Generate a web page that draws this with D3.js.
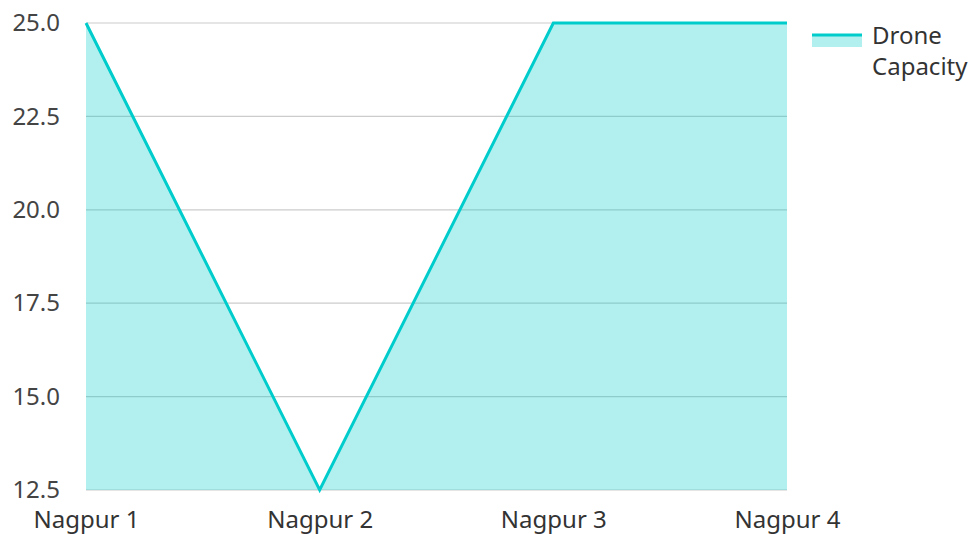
<!DOCTYPE html>
<html><head><meta charset="utf-8">
<script src="https://cdn.jsdelivr.net/npm/d3@7"></script>
<style>body{margin:0;background:#fff}svg{display:block}text{font-family:"Noto Sans",sans-serif;}</style>
</head><body><svg id="c" width="973" height="534"></svg>
<script>
const categories = ["Nagpur 1","Nagpur 2","Nagpur 3","Nagpur 4"];
const droneCapacity = [25, 12.5, 25, 25];
const yTicks = [12.5, 15.0, 17.5, 20.0, 22.5, 25.0];
const seriesName = ["Drone", "Capacity"];

(function(){
const svg = d3.select("#c");
const mLeft = 86, mRight = 787, mTop = 23, mBottom = 490;
const x = d3.scalePoint().domain(categories).range([mLeft, mRight]).padding(0);
const y = d3.scaleLinear().domain([12.5, 25]).range([mBottom, mTop]);
const lineColor = "#00cccc";

svg.append("g").selectAll("line").data(yTicks).join("line")
  .attr("x1", mLeft).attr("x2", mRight)
  .attr("y1", d => y(d)).attr("y2", d => y(d))
  .attr("stroke", "#cccccc").attr("stroke-width", 1.2);

const data = categories.map((c, i) => ({c, v: droneCapacity[i]}));
svg.append("path").datum(data)
  .attr("d", d3.area().x(d => x(d.c)).y0(y(12.5)).y1(d => y(d.v)))
  .attr("fill", lineColor).attr("fill-opacity", 0.3);
svg.append("path").datum(data)
  .attr("d", d3.line().x(d => x(d.c)).y(d => y(d.v)))
  .attr("fill", "none").attr("stroke", lineColor).attr("stroke-width", 3);

const yAxis = d3.axisLeft(y).tickValues(yTicks).tickFormat(d3.format(".1f")).tickSize(0).tickPadding(26);
const gy = svg.append("g").attr("transform", `translate(${mLeft},0)`).call(yAxis);
gy.select(".domain").remove();
gy.attr("font-size", 24).attr("font-family", "Noto Sans");
gy.selectAll("text").attr("font-size", 24).attr("fill", "#444");

const xAxis = d3.axisBottom(x).tickSize(0).tickPadding(21);
const gx = svg.append("g").attr("transform", `translate(0,${mBottom})`).call(xAxis);
gx.select(".domain").remove();
gx.attr("font-size", 24).attr("font-family", "Noto Sans");
gx.selectAll("text").attr("font-size", 24).attr("fill", "#333");

const lg = svg.append("g");
lg.append("rect").attr("x", 812).attr("y", 34).attr("width", 50).attr("height", 13)
  .attr("fill", lineColor).attr("fill-opacity", 0.3);
lg.append("line").attr("x1", 812).attr("x2", 862).attr("y1", 35).attr("y2", 35)
  .attr("stroke", lineColor).attr("stroke-width", 3);
lg.selectAll("text").data(seriesName).join("text")
  .attr("x", 872).attr("y", (d, i) => 44 + i * 31)
  .attr("font-size", 24).attr("fill", "#333").text(d => d);
})();
</script></body></html>
